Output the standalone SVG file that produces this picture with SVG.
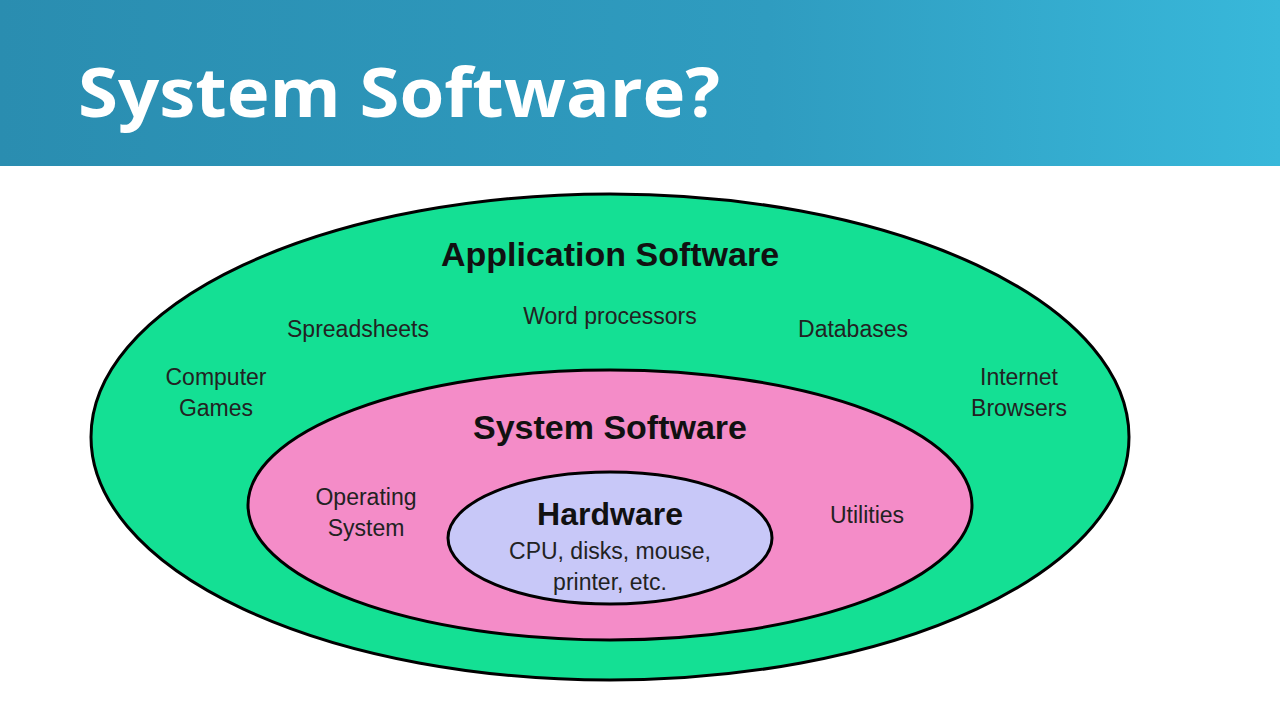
<svg xmlns="http://www.w3.org/2000/svg" width="1280" height="720" viewBox="0 0 1280 720">
<defs>
<linearGradient id="hdr" x1="0" y1="0" x2="1" y2="0">
<stop offset="0" stop-color="#2a8db0"/><stop offset="0.6" stop-color="#2f9cc0"/><stop offset="1" stop-color="#38b8da"/>
</linearGradient>
<style>
.h{font-family:"Liberation Sans",Arial,sans-serif;font-weight:bold;fill:#111;text-anchor:middle}
.t{font-family:"Liberation Sans",Arial,sans-serif;font-size:23px;fill:#222;text-anchor:middle}
ellipse{stroke:#000;stroke-width:3}
</style>
</defs>
<rect width="1280" height="720" fill="#ffffff"/>
<rect width="1280" height="166" fill="url(#hdr)"/>
<text x="78" y="117" font-family="'Open Sans','Liberation Sans',sans-serif" font-weight="bold" font-size="68" fill="#fff" textLength="642" lengthAdjust="spacingAndGlyphs">System Software?</text>
<g id="application">
<ellipse cx="610" cy="437" rx="519" ry="243" fill="#14e094"/>
<text class="h" x="610" y="266" font-size="34">Application Software</text>
<text class="t" x="358" y="337">Spreadsheets</text>
<text class="t" x="610" y="324">Word processors</text>
<text class="t" x="853" y="337">Databases</text>
<text class="t" x="216" y="385">Computer</text>
<text class="t" x="216" y="416">Games</text>
<text class="t" x="1019" y="385">Internet</text>
<text class="t" x="1019" y="416">Browsers</text>
</g>
<g id="system">
<ellipse cx="610" cy="505" rx="362" ry="135" fill="#f48cc8"/>
<text class="h" x="610" y="439" font-size="34">System Software</text>
<text class="t" x="366" y="505">Operating</text>
<text class="t" x="366" y="536">System</text>
<text class="t" x="867" y="523">Utilities</text>
</g>
<g id="hardware">
<ellipse cx="610" cy="538" rx="162" ry="66" fill="#c8c8f8"/>
<text class="h" x="610" y="525" font-size="32">Hardware</text>
<text class="t" x="610" y="559">CPU, disks, mouse,</text>
<text class="t" x="610" y="590">printer, etc.</text>
</g>
<g id="connectors"/>
</svg>
